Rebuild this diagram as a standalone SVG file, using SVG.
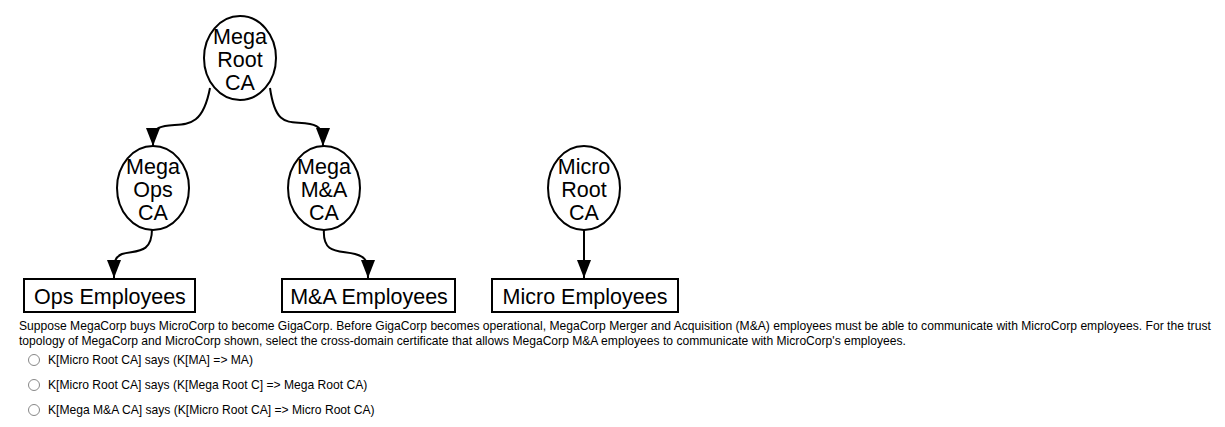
<svg xmlns="http://www.w3.org/2000/svg" width="1225" height="427" viewBox="0 0 1225 427">
<style>
.n{fill:#fff;stroke:#000;stroke-width:2}
.t{font-family:"Liberation Sans",Arial,sans-serif;font-size:21.5px;text-anchor:middle;fill:#000}
.e{fill:none;stroke:#000;stroke-width:2}
.q{font-family:"Liberation Sans",Arial,sans-serif;font-size:12.1px;fill:#000}
.r{fill:#fff;stroke:#888;stroke-width:1}
</style>
<defs><marker id="a" markerWidth="20" markerHeight="14" refX="18" refY="7" orient="auto" markerUnits="userSpaceOnUse"><path d="M0,0L18,7L0,14z"/></marker></defs>
<rect width="1225" height="427" fill="#fff"/>
<g id="edges">
<path class="e" marker-end="url(#a)" d="M210,88 C202,130 185,123 165,126 C155,128 153,130 153,146"/>
<path class="e" marker-end="url(#a)" d="M270,88 C276,130 290,120 310,124 C320,126 323,130 323,146"/>
<path class="e" marker-end="url(#a)" d="M152,229 C152,255 135,250 122,254 C115,257 114,260 114,278"/>
<path class="e" marker-end="url(#a)" d="M324,229 C322,255 340,250 355,254 C366,257 368,260 368,278"/>
<path class="e" marker-end="url(#a)" d="M584,229 L584,278"/>
</g>
<g id="megaRoot"><ellipse class="n" cx="240" cy="58" rx="36" ry="42"/><text class="t" x="240" y="44">Mega</text><text class="t" x="240" y="67">Root</text><text class="t" x="240" y="90">CA</text></g>
<g id="megaOps"><ellipse class="n" cx="153" cy="188" rx="36" ry="42"/><text class="t" x="153" y="174">Mega</text><text class="t" x="153" y="197">Ops</text><text class="t" x="153" y="220">CA</text></g>
<g id="megaMA"><ellipse class="n" cx="324" cy="188" rx="36" ry="42"/><text class="t" x="324" y="174">Mega</text><text class="t" x="324" y="197">M&amp;A</text><text class="t" x="324" y="220">CA</text></g>
<g id="microRoot"><ellipse class="n" cx="584" cy="188" rx="36" ry="42"/><text class="t" x="584" y="174">Micro</text><text class="t" x="584" y="197">Root</text><text class="t" x="584" y="220">CA</text></g>
<g id="opsEmp"><rect class="n" x="24" y="279" width="171" height="33"/><text class="t" x="110" y="304">Ops Employees</text></g>
<g id="maEmp"><rect class="n" x="282" y="279" width="173" height="33"/><text class="t" x="369" y="304">M&amp;A Employees</text></g>
<g id="microEmp"><rect class="n" x="492" y="279" width="186" height="33"/><text class="t" x="585" y="304">Micro Employees</text></g>
<text class="q" x="19" y="330">Suppose MegaCorp buys MicroCorp to become GigaCorp. Before GigaCorp becomes operational, MegaCorp Merger and Acquisition (M&amp;A) employees must be able to communicate with MicroCorp employees. For the trust</text>
<text class="q" x="19" y="345">topology of MegaCorp and MicroCorp shown, select the cross-domain certificate that allows MegaCorp M&amp;A employees to communicate with MicroCorp's employees.</text>
<circle class="r" cx="34" cy="360" r="5.5"/><text class="q" x="48" y="364">K[Micro Root CA] says (K[MA] =&gt; MA)</text>
<circle class="r" cx="34" cy="385" r="5.5"/><text class="q" x="48" y="389">K[Micro Root CA] says (K[Mega Root C] =&gt; Mega Root CA)</text>
<circle class="r" cx="34" cy="410" r="5.5"/><text class="q" x="48" y="414">K[Mega M&amp;A CA] says (K[Micro Root CA] =&gt; Micro Root CA)</text>
</svg>
